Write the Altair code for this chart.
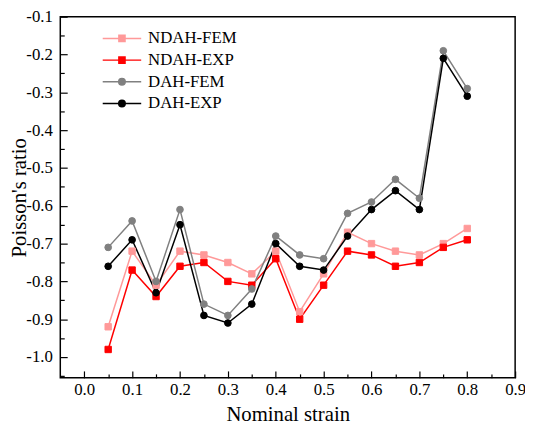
import altair as alt
import pandas as pd

strain = [0.05, 0.1, 0.15, 0.2, 0.25, 0.3, 0.35, 0.4, 0.45, 0.5, 0.55, 0.6, 0.65, 0.7, 0.75, 0.8]
ndah_fem = [-0.92, -0.72, -0.81, -0.72, -0.73, -0.75, -0.78, -0.72, -0.88, -0.78, -0.67, -0.70, -0.72, -0.73, -0.70, -0.66]
ndah_exp = [-0.98, -0.77, -0.84, -0.76, -0.75, -0.80, -0.81, -0.74, -0.90, -0.81, -0.72, -0.73, -0.76, -0.75, -0.71, -0.69]
dah_fem = [-0.71, -0.64, -0.80, -0.61, -0.86, -0.89, -0.82, -0.68, -0.73, -0.74, -0.62, -0.59, -0.53, -0.58, -0.19, -0.29]
dah_exp = [-0.76, -0.69, -0.83, -0.65, -0.89, -0.91, -0.86, -0.70, -0.76, -0.77, -0.68, -0.61, -0.56, -0.61, -0.21, -0.31]

series_names = ["NDAH-FEM", "NDAH-EXP", "DAH-FEM", "DAH-EXP"]
series_colors = ["#FF9999", "#FF0000", "#808080", "#000000"]
series_values = [ndah_fem, ndah_exp, dah_fem, dah_exp]

x_major = [0.0, 0.1, 0.2, 0.3, 0.4, 0.5, 0.6, 0.7, 0.8, 0.9]
x_minor = [0.05, 0.15, 0.25, 0.35, 0.45, 0.55, 0.65, 0.75, 0.85]
y_major = [-1.0, -0.9, -0.8, -0.7, -0.6, -0.5, -0.4, -0.3, -0.2, -0.1]
y_minor = [-1.05, -0.95, -0.85, -0.75, -0.65, -0.55, -0.45, -0.35, -0.25, -0.15]

rows = []
for name, vals in zip(series_names, series_values):
    for s, v in zip(strain, vals):
        rows.append({"strain": s, "ratio": v, "series": name})
df = pd.DataFrame(rows)

FONT = "Liberation Serif, Times New Roman, serif"
label_expr = "datum.value < 0 ? '-' + format(-datum.value, '.1f') : format(datum.value, '.1f')"

xscale = alt.Scale(domain=[-0.05, 0.9], nice=False, zero=False)
yscale = alt.Scale(domain=[-1.055, -0.1], nice=False, zero=False)
cscale = alt.Scale(domain=series_names, range=series_colors)

sq_path = "M-1,0H1M-0.16,-0.16H0.16V0.16H-0.16Z"
ci_path = "M-1,0H1M-0.17,0A0.17,0.17,0,1,1,0.17,0A0.17,0.17,0,1,1,-0.17,0Z"
shape_scale = alt.Scale(domain=series_names, range=[sq_path, sq_path, ci_path, ci_path])

label_axis_x = alt.Axis(orient="bottom", values=x_major, labelExpr=label_expr, ticks=False, domain=False,
                        grid=False, labelFlush=False, labelOverlap=False,
                        labelFont=FONT, labelFontSize=17, labelColor="black", labelPadding=4,
                        title="Nominal strain", titleFont=FONT, titleFontSize=21, titleFontWeight="normal",
                        titleColor="black", titlePadding=6)
label_axis_y = alt.Axis(orient="left", values=y_major, labelExpr=label_expr, ticks=False, domain=False,
                        grid=False, labelFlush=False, labelOverlap=False,
                        labelFont=FONT, labelFontSize=17, labelColor="black", labelPadding=8,
                        title="Poisson's ratio", titleFont=FONT, titleFontSize=21, titleFontWeight="normal",
                        titleColor="black", titlePadding=-4)

def tick_axis(orient, vals, size):
    return alt.Axis(orient=orient, values=vals, labels=False, domain=False, grid=False, ticks=True,
                    tickSize=size, tickColor="black", tickWidth=1.2, offset=-size, title=None)

legend = alt.Legend(orient="none", legendX=42, legendY=11, title=None, padding=0,
                    symbolSize=1521, symbolStrokeWidth=1.5, symbolOpacity=1, clipHeight=22,
                    labelFont=FONT, labelFontSize=17, labelColor="black", labelOffset=6,
                    rowPadding=0)

base = alt.Chart(df)

legend_layer = base.mark_point(filled=True, opacity=0).encode(
    x=alt.X("strain:Q", scale=xscale, axis=None),
    y=alt.Y("ratio:Q", scale=yscale, axis=None),
    fill=alt.Fill("series:N", scale=cscale, legend=legend),
    stroke=alt.Stroke("series:N", scale=cscale, legend=legend),
    shape=alt.Shape("series:N", scale=shape_scale, legend=legend),
)

lines = base.mark_line(strokeWidth=1.5).encode(
    x=alt.X("strain:Q", scale=xscale, axis=label_axis_x),
    y=alt.Y("ratio:Q", scale=yscale, axis=label_axis_y),
    stroke=alt.Stroke("series:N", scale=cscale, legend=legend),
    order=alt.Order("strain:Q"),
)

pts_sq = base.transform_filter(
    alt.FieldOneOfPredicate(field="series", oneOf=series_names[:2])
).mark_point(filled=True, shape="square", size=42, strokeWidth=1, opacity=1).encode(
    x=alt.X("strain:Q", scale=xscale, axis=tick_axis("bottom", x_major, 7)),
    y=alt.Y("ratio:Q", scale=yscale, axis=tick_axis("left", y_major, 7)),
    fill=alt.Fill("series:N", scale=cscale, legend=legend),
    stroke=alt.Stroke("series:N", scale=cscale, legend=legend),
)

pts_ci = base.transform_filter(
    alt.FieldOneOfPredicate(field="series", oneOf=series_names[2:])
).mark_point(filled=True, shape="circle", size=46, strokeWidth=1, opacity=1).encode(
    x=alt.X("strain:Q", scale=xscale, axis=tick_axis("bottom", x_minor, 4)),
    y=alt.Y("ratio:Q", scale=yscale, axis=tick_axis("left", y_minor, 4)),
    fill=alt.Fill("series:N", scale=cscale, legend=legend),
    stroke=alt.Stroke("series:N", scale=cscale, legend=legend),
)

chart = alt.layer(legend_layer, lines, pts_sq, pts_ci).resolve_axis(
    x="independent", y="independent"
).properties(
    width=461, height=366,
    autosize=alt.AutoSizeParams(type="none"),
    padding={"left": 53, "top": 6, "right": 10, "bottom": 47},
    background="white",
).configure_view(stroke="black", strokeWidth=1.5)

chart.save("out.html", embed_options={"renderer": "svg", "actions": False})
